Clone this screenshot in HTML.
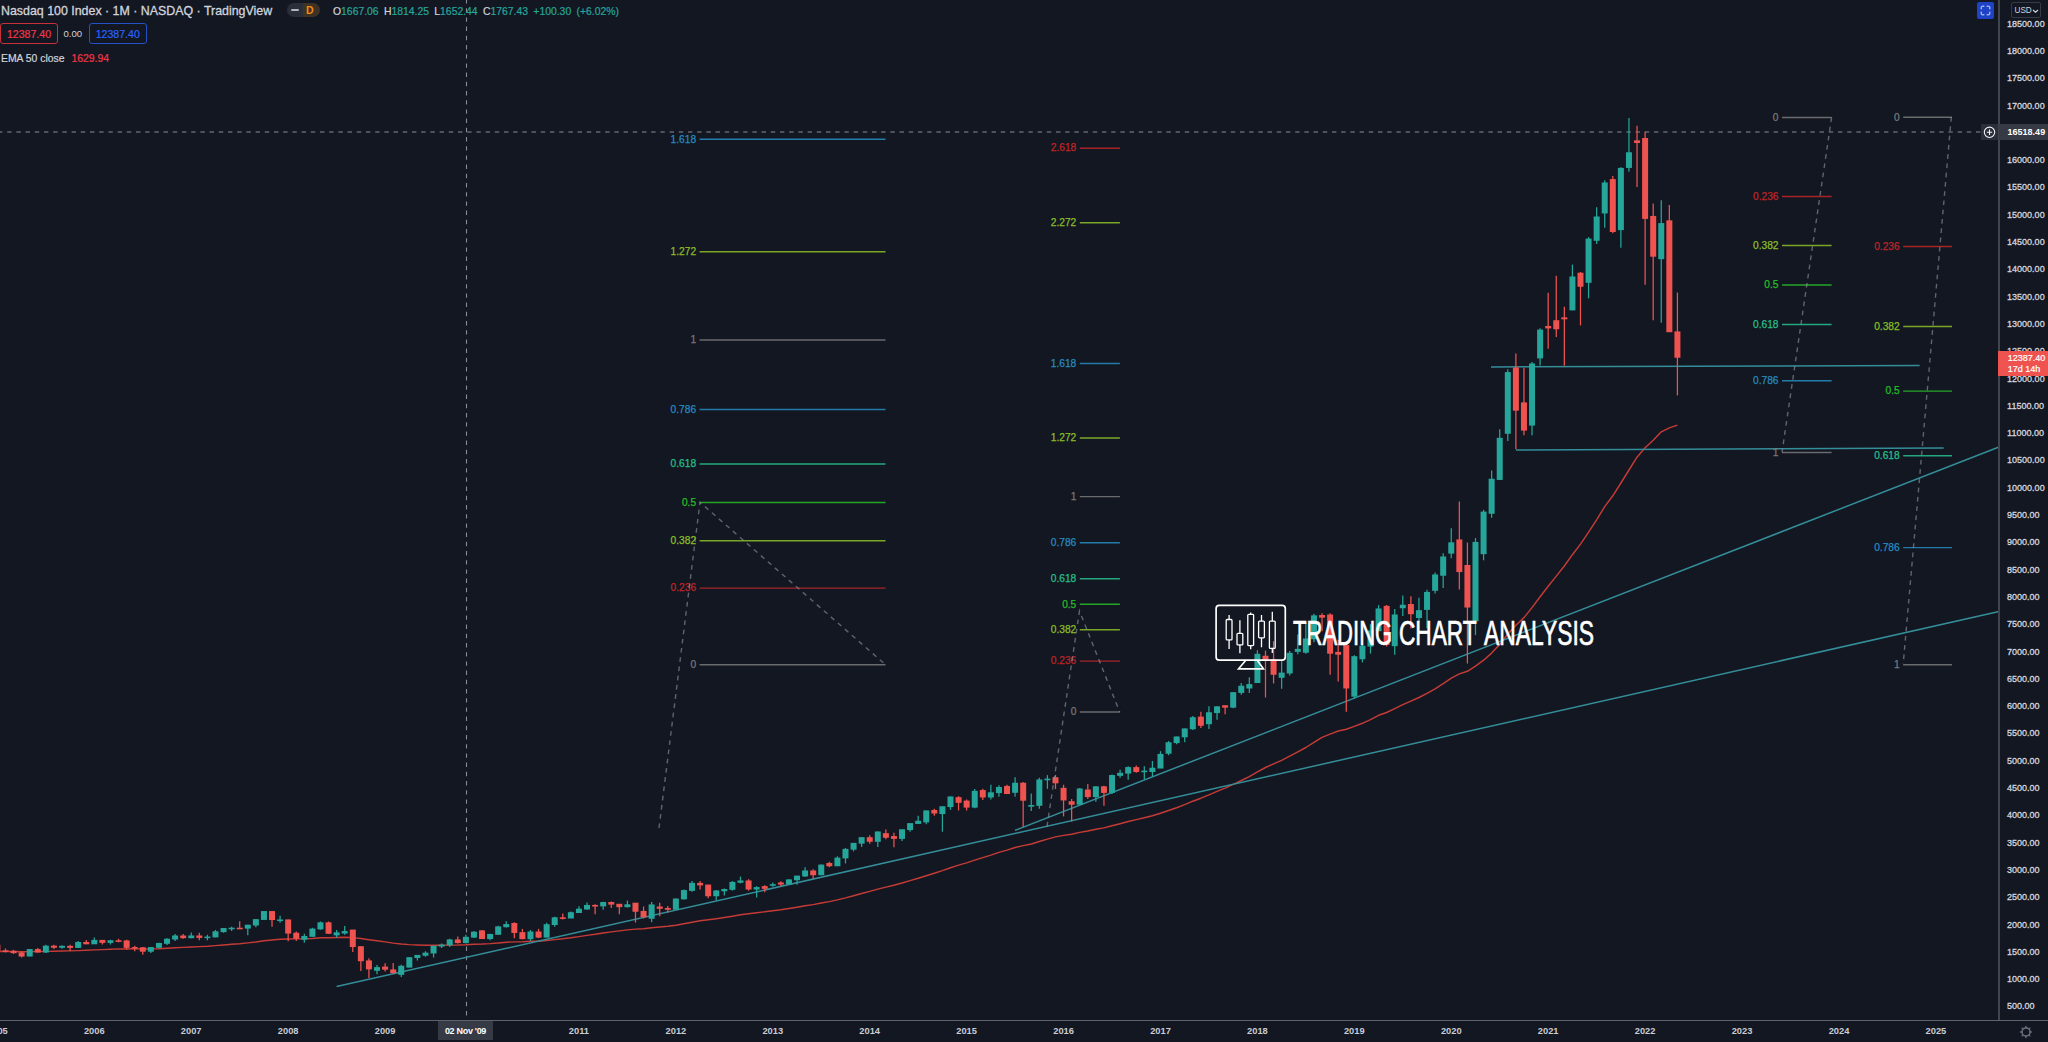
<!DOCTYPE html>
<html><head><meta charset="utf-8"><title>Nasdaq 100 Index chart</title>
<style>
html,body{margin:0;padding:0;background:#131722;}
body{width:2048px;height:1042px;position:relative;overflow:hidden;font-family:"Liberation Sans",sans-serif;color:#d1d4dc;}
#paxis{position:absolute;left:1998px;top:0;width:50px;height:1042px;background:#131722;border-left:2px solid #41454f;box-sizing:border-box}
#taxis{position:absolute;left:0;top:1020.0px;width:2048px;height:22.0px;background:#131722;border-top:1px solid #5f626c;box-sizing:border-box}
.pl{position:absolute;left:2007.1px;-webkit-text-stroke:0.3px #d3d6de;font-size:9.0px;line-height:12px;height:12px;color:#d3d6de;white-space:nowrap;}
.tl{position:absolute;top:1024.8px;width:40px;text-align:center;font-size:9.3px;line-height:12px;color:#c9ccd4;font-weight:bold}
</style></head><body>
<svg id="chart" width="2048" height="1042" viewBox="0 0 2048 1042" style="position:absolute;left:0;top:0" font-family="Liberation Sans, sans-serif"><line x1="-2" y1="132" x2="1981" y2="132" stroke="#9ea1aa" stroke-width="1.1" stroke-dasharray="4.4 4.8" opacity="0.85"/>
<line x1="466.5" y1="-1" x2="466.5" y2="1020.5" stroke="#9ea1aa" stroke-width="1.1" stroke-dasharray="4.4 4.8" opacity="0.85"/>
<polyline points="-2.6,951.5 5.5,951.4 13.6,951.5 21.6,951.7 29.7,951.6 37.8,951.6 45.9,951.4 53.9,951.2 62.0,951.0 70.1,950.9 78.2,950.6 86.2,950.3 94.3,949.9 102.4,949.6 110.5,949.3 118.6,948.9 126.6,948.9 134.7,948.8 142.8,948.9 150.9,948.9 158.9,948.7 167.0,948.3 175.1,947.8 183.2,947.4 191.2,947.0 199.3,946.6 207.4,946.2 215.5,945.6 223.6,945.0 231.6,944.3 239.7,943.7 247.8,942.9 255.9,942.0 263.9,940.8 272.0,940.0 280.1,939.2 288.2,939.0 296.2,938.9 304.3,938.8 312.4,938.5 320.5,937.8 328.6,937.7 336.6,937.5 344.7,937.2 352.8,937.6 360.9,938.5 368.9,939.7 377.0,940.8 385.1,941.9 393.2,943.1 401.2,944.0 409.3,944.6 417.4,945.0 425.5,945.3 433.6,945.3 441.6,945.3 449.7,945.1 457.8,945.0 465.9,944.7 473.9,944.2 482.0,944.0 490.1,943.6 498.2,943.0 506.3,942.2 514.3,941.9 522.4,941.7 530.5,941.3 538.6,941.2 546.6,940.5 554.7,939.6 562.8,938.8 570.9,937.8 578.9,936.6 587.0,935.4 595.1,934.3 603.2,933.0 611.3,931.9 619.3,930.9 627.4,929.9 635.5,929.1 643.6,928.7 651.6,927.7 659.7,927.0 667.8,926.3 675.9,925.2 683.9,923.8 692.0,922.3 700.1,920.8 708.2,919.8 716.3,918.7 724.3,917.5 732.4,916.2 740.5,914.8 748.6,913.8 756.6,912.7 764.7,911.8 772.8,910.7 780.9,909.7 788.9,908.5 797.0,907.2 805.1,905.8 813.2,904.6 821.3,903.0 829.3,901.6 837.4,899.9 845.5,897.9 853.6,895.7 861.6,893.5 869.7,891.4 877.8,889.1 885.9,887.1 893.9,885.2 902.0,883.0 910.1,880.6 918.2,878.3 926.3,875.7 934.3,873.2 942.4,870.6 950.5,867.7 958.6,865.1 966.6,862.9 974.7,860.1 982.8,857.6 990.9,855.1 998.9,852.4 1007.0,850.1 1015.1,847.5 1023.2,845.6 1031.3,844.0 1039.3,841.5 1047.4,839.1 1055.5,836.9 1063.6,835.4 1071.6,834.2 1079.7,832.4 1087.8,831.0 1095.9,829.3 1103.9,827.9 1112.0,825.8 1120.1,823.7 1128.2,821.5 1136.3,819.6 1144.3,817.7 1152.4,815.7 1160.5,813.3 1168.6,810.5 1176.6,807.7 1184.7,804.6 1192.8,801.2 1200.9,798.2 1209.0,794.8 1217.0,791.4 1225.1,788.1 1233.2,784.3 1241.3,780.5 1249.3,776.7 1257.4,771.9 1265.5,767.5 1273.6,763.8 1281.6,760.3 1289.7,756.1 1297.8,751.9 1305.9,747.5 1314.0,742.3 1322.0,737.4 1330.1,734.1 1338.2,731.0 1346.3,729.3 1354.3,726.4 1362.4,723.3 1370.5,719.7 1378.6,715.3 1386.6,712.5 1394.7,708.7 1402.8,704.7 1410.9,701.1 1419.0,697.5 1427.0,693.4 1435.1,688.8 1443.2,683.6 1451.3,678.1 1459.3,673.9 1467.4,671.3 1475.5,666.2 1483.6,660.2 1491.6,653.1 1499.7,644.6 1507.8,634.0 1515.9,625.2 1524.0,617.6 1532.0,607.6 1540.1,596.7 1548.2,586.2 1556.3,576.1 1564.3,566.0 1572.4,554.7 1580.5,544.1 1588.6,532.2 1596.6,519.8 1604.7,506.6 1612.8,495.8 1620.9,483.0 1629.0,470.0 1637.0,457.2 1645.1,447.8 1653.2,440.3 1661.3,431.8 1669.3,427.9 1677.4,425.1" fill="none" stroke="#c63b36" stroke-width="1.45" stroke-linejoin="round"/>
<line x1="336.6" y1="986.6" x2="1999" y2="611.5" stroke="#348e99" stroke-width="1.5"/>
<line x1="1014.9" y1="830.4" x2="1999" y2="447" stroke="#348e99" stroke-width="1.5"/>
<line x1="1491" y1="366.9" x2="1919.6" y2="365.5" stroke="#348e99" stroke-width="1.5"/>
<line x1="1516" y1="450.0" x2="1943.7" y2="448.1" stroke="#348e99" stroke-width="1.5"/>
<g id="candles"><line x1="-2.60" y1="944.81" x2="-2.60" y2="952.62" stroke="#ef5350" stroke-width="1.25"/><rect x="-5.60" y="944.79" width="6" height="6.34" fill="#ef5350"/><line x1="5.48" y1="948.52" x2="5.48" y2="952.46" stroke="#ef5350" stroke-width="1.25"/><rect x="2.48" y="950.33" width="6" height="1.60" fill="#ef5350"/><line x1="13.55" y1="949.83" x2="13.55" y2="953.87" stroke="#ef5350" stroke-width="1.25"/><rect x="10.55" y="950.80" width="6" height="2.36" fill="#ef5350"/><line x1="21.63" y1="951.47" x2="21.63" y2="957.59" stroke="#ef5350" stroke-width="1.25"/><rect x="18.63" y="952.36" width="6" height="4.17" fill="#ef5350"/><line x1="29.71" y1="948.96" x2="29.71" y2="956.28" stroke="#26a69a" stroke-width="1.25"/><rect x="26.71" y="949.07" width="6" height="7.45" fill="#26a69a"/><line x1="37.78" y1="948.09" x2="37.78" y2="952.62" stroke="#ef5350" stroke-width="1.25"/><rect x="34.78" y="949.07" width="6" height="3.48" fill="#ef5350"/><line x1="45.86" y1="944.81" x2="45.86" y2="952.89" stroke="#26a69a" stroke-width="1.25"/><rect x="42.86" y="945.67" width="6" height="6.89" fill="#26a69a"/><line x1="53.94" y1="944.87" x2="53.94" y2="948.96" stroke="#ef5350" stroke-width="1.25"/><rect x="50.94" y="945.67" width="6" height="2.07" fill="#ef5350"/><line x1="62.02" y1="945.14" x2="62.02" y2="948.85" stroke="#26a69a" stroke-width="1.25"/><rect x="59.02" y="945.85" width="6" height="1.89" fill="#26a69a"/><line x1="70.09" y1="944.81" x2="70.09" y2="950.98" stroke="#ef5350" stroke-width="1.25"/><rect x="67.09" y="945.85" width="6" height="2.04" fill="#ef5350"/><line x1="78.17" y1="940.88" x2="78.17" y2="947.98" stroke="#26a69a" stroke-width="1.25"/><rect x="75.17" y="941.98" width="6" height="5.91" fill="#26a69a"/><line x1="86.25" y1="940.01" x2="86.25" y2="944.16" stroke="#ef5350" stroke-width="1.25"/><rect x="83.25" y="941.98" width="6" height="2.30" fill="#ef5350"/><line x1="94.32" y1="937.55" x2="94.32" y2="943.88" stroke="#26a69a" stroke-width="1.25"/><rect x="91.32" y="939.90" width="6" height="4.39" fill="#26a69a"/><line x1="102.40" y1="939.95" x2="102.40" y2="944.54" stroke="#ef5350" stroke-width="1.25"/><rect x="99.40" y="939.90" width="6" height="2.99" fill="#ef5350"/><line x1="110.48" y1="939.79" x2="110.48" y2="944.54" stroke="#26a69a" stroke-width="1.25"/><rect x="107.48" y="940.28" width="6" height="2.61" fill="#26a69a"/><line x1="118.56" y1="938.75" x2="118.56" y2="942.25" stroke="#ef5350" stroke-width="1.25"/><rect x="115.56" y="940.28" width="6" height="1.60" fill="#ef5350"/><line x1="126.63" y1="939.73" x2="126.63" y2="949.45" stroke="#ef5350" stroke-width="1.25"/><rect x="123.63" y="940.44" width="6" height="7.41" fill="#ef5350"/><line x1="134.71" y1="945.68" x2="134.71" y2="951.20" stroke="#ef5350" stroke-width="1.25"/><rect x="131.71" y="947.05" width="6" height="1.60" fill="#ef5350"/><line x1="142.79" y1="947.00" x2="142.79" y2="954.75" stroke="#ef5350" stroke-width="1.25"/><rect x="139.79" y="947.29" width="6" height="4.39" fill="#ef5350"/><line x1="150.86" y1="947.27" x2="150.86" y2="952.89" stroke="#26a69a" stroke-width="1.25"/><rect x="147.86" y="947.05" width="6" height="4.64" fill="#26a69a"/><line x1="158.94" y1="942.68" x2="158.94" y2="948.36" stroke="#26a69a" stroke-width="1.25"/><rect x="155.94" y="942.99" width="6" height="4.86" fill="#26a69a"/><line x1="167.02" y1="938.37" x2="167.02" y2="944.98" stroke="#26a69a" stroke-width="1.25"/><rect x="164.02" y="938.71" width="6" height="5.09" fill="#26a69a"/><line x1="175.09" y1="934.11" x2="175.09" y2="940.88" stroke="#26a69a" stroke-width="1.25"/><rect x="172.09" y="935.51" width="6" height="3.99" fill="#26a69a"/><line x1="183.17" y1="934.06" x2="183.17" y2="938.70" stroke="#ef5350" stroke-width="1.25"/><rect x="180.17" y="935.51" width="6" height="2.66" fill="#ef5350"/><line x1="191.25" y1="932.58" x2="191.25" y2="938.20" stroke="#26a69a" stroke-width="1.25"/><rect x="188.25" y="935.46" width="6" height="2.72" fill="#26a69a"/><line x1="199.33" y1="932.64" x2="199.33" y2="940.33" stroke="#ef5350" stroke-width="1.25"/><rect x="196.33" y="935.46" width="6" height="2.46" fill="#ef5350"/><line x1="207.40" y1="934.76" x2="207.40" y2="940.28" stroke="#26a69a" stroke-width="1.25"/><rect x="204.40" y="936.55" width="6" height="1.60" fill="#26a69a"/><line x1="215.48" y1="929.96" x2="215.48" y2="937.33" stroke="#26a69a" stroke-width="1.25"/><rect x="212.48" y="931.32" width="6" height="6.03" fill="#26a69a"/><line x1="223.56" y1="928.05" x2="223.56" y2="932.69" stroke="#26a69a" stroke-width="1.25"/><rect x="220.56" y="928.03" width="6" height="4.09" fill="#26a69a"/><line x1="231.63" y1="926.79" x2="231.63" y2="931.05" stroke="#26a69a" stroke-width="1.25"/><rect x="228.63" y="927.70" width="6" height="1.60" fill="#26a69a"/><line x1="239.71" y1="921.22" x2="239.71" y2="928.87" stroke="#ef5350" stroke-width="1.25"/><rect x="236.71" y="927.70" width="6" height="1.60" fill="#ef5350"/><line x1="247.79" y1="924.83" x2="247.79" y2="935.15" stroke="#26a69a" stroke-width="1.25"/><rect x="244.79" y="924.72" width="6" height="3.90" fill="#26a69a"/><line x1="255.86" y1="919.04" x2="255.86" y2="927.23" stroke="#26a69a" stroke-width="1.25"/><rect x="252.86" y="919.13" width="6" height="6.39" fill="#26a69a"/><line x1="263.94" y1="911.45" x2="263.94" y2="919.86" stroke="#26a69a" stroke-width="1.25"/><rect x="260.94" y="911.05" width="6" height="8.88" fill="#26a69a"/><line x1="272.02" y1="911.45" x2="272.02" y2="926.68" stroke="#ef5350" stroke-width="1.25"/><rect x="269.02" y="911.05" width="6" height="8.99" fill="#ef5350"/><line x1="280.09" y1="915.76" x2="280.09" y2="922.86" stroke="#26a69a" stroke-width="1.25"/><rect x="277.09" y="919.46" width="6" height="1.60" fill="#26a69a"/><line x1="288.17" y1="919.59" x2="288.17" y2="941.26" stroke="#ef5350" stroke-width="1.25"/><rect x="285.17" y="919.46" width="6" height="14.10" fill="#ef5350"/><line x1="296.25" y1="931.60" x2="296.25" y2="940.88" stroke="#ef5350" stroke-width="1.25"/><rect x="293.25" y="932.76" width="6" height="6.06" fill="#ef5350"/><line x1="304.33" y1="933.78" x2="304.33" y2="942.63" stroke="#26a69a" stroke-width="1.25"/><rect x="301.33" y="936.01" width="6" height="3.74" fill="#26a69a"/><line x1="312.40" y1="927.78" x2="312.40" y2="936.79" stroke="#26a69a" stroke-width="1.25"/><rect x="309.40" y="928.59" width="6" height="8.21" fill="#26a69a"/><line x1="320.48" y1="921.50" x2="320.48" y2="929.69" stroke="#26a69a" stroke-width="1.25"/><rect x="317.48" y="922.32" width="6" height="7.07" fill="#26a69a"/><line x1="328.56" y1="921.44" x2="328.56" y2="933.78" stroke="#ef5350" stroke-width="1.25"/><rect x="325.56" y="922.32" width="6" height="11.48" fill="#ef5350"/><line x1="336.63" y1="929.96" x2="336.63" y2="937.60" stroke="#26a69a" stroke-width="1.25"/><rect x="333.63" y="932.34" width="6" height="3.04" fill="#26a69a"/><line x1="344.71" y1="925.97" x2="344.71" y2="934.87" stroke="#26a69a" stroke-width="1.25"/><rect x="341.71" y="931.06" width="6" height="2.47" fill="#26a69a"/><line x1="352.79" y1="929.96" x2="352.79" y2="952.07" stroke="#ef5350" stroke-width="1.25"/><rect x="349.79" y="929.56" width="6" height="17.47" fill="#ef5350"/><line x1="360.86" y1="946.34" x2="360.86" y2="970.91" stroke="#ef5350" stroke-width="1.25"/><rect x="357.86" y="946.23" width="6" height="14.99" fill="#ef5350"/><line x1="368.94" y1="958.35" x2="368.94" y2="978.12" stroke="#ef5350" stroke-width="1.25"/><rect x="365.94" y="960.42" width="6" height="8.94" fill="#ef5350"/><line x1="377.02" y1="964.90" x2="377.02" y2="974.19" stroke="#26a69a" stroke-width="1.25"/><rect x="374.02" y="967.15" width="6" height="3.62" fill="#26a69a"/><line x1="385.10" y1="963.27" x2="385.10" y2="971.46" stroke="#ef5350" stroke-width="1.25"/><rect x="382.10" y="966.58" width="6" height="3.09" fill="#ef5350"/><line x1="393.17" y1="962.99" x2="393.17" y2="973.64" stroke="#ef5350" stroke-width="1.25"/><rect x="390.17" y="969.42" width="6" height="3.69" fill="#ef5350"/><line x1="401.25" y1="964.63" x2="401.25" y2="976.92" stroke="#26a69a" stroke-width="1.25"/><rect x="398.25" y="965.76" width="6" height="9.10" fill="#26a69a"/><line x1="409.33" y1="956.99" x2="409.33" y2="967.20" stroke="#26a69a" stroke-width="1.25"/><rect x="406.33" y="957.19" width="6" height="10.41" fill="#26a69a"/><line x1="417.40" y1="955.08" x2="417.40" y2="960.54" stroke="#26a69a" stroke-width="1.25"/><rect x="414.40" y="954.92" width="6" height="3.07" fill="#26a69a"/><line x1="425.48" y1="951.25" x2="425.48" y2="956.71" stroke="#26a69a" stroke-width="1.25"/><rect x="422.48" y="952.66" width="6" height="3.06" fill="#26a69a"/><line x1="433.56" y1="945.79" x2="433.56" y2="957.53" stroke="#26a69a" stroke-width="1.25"/><rect x="430.56" y="945.78" width="6" height="7.68" fill="#26a69a"/><line x1="441.63" y1="943.61" x2="441.63" y2="947.98" stroke="#26a69a" stroke-width="1.25"/><rect x="438.63" y="944.58" width="6" height="2.00" fill="#26a69a"/><line x1="449.71" y1="938.70" x2="449.71" y2="946.89" stroke="#26a69a" stroke-width="1.25"/><rect x="446.71" y="939.44" width="6" height="5.93" fill="#26a69a"/><line x1="457.79" y1="936.51" x2="457.79" y2="943.61" stroke="#ef5350" stroke-width="1.25"/><rect x="454.79" y="939.44" width="6" height="3.64" fill="#ef5350"/><line x1="465.87" y1="934.64" x2="465.87" y2="943.48" stroke="#26a69a" stroke-width="1.25"/><rect x="462.87" y="936.80" width="6" height="6.28" fill="#26a69a"/><line x1="473.94" y1="931.05" x2="473.94" y2="937.88" stroke="#26a69a" stroke-width="1.25"/><rect x="470.94" y="931.74" width="6" height="5.85" fill="#26a69a"/><line x1="482.02" y1="929.96" x2="482.02" y2="938.97" stroke="#ef5350" stroke-width="1.25"/><rect x="479.02" y="930.38" width="6" height="8.66" fill="#ef5350"/><line x1="490.10" y1="933.78" x2="490.10" y2="940.33" stroke="#26a69a" stroke-width="1.25"/><rect x="487.10" y="934.00" width="6" height="5.04" fill="#26a69a"/><line x1="498.17" y1="925.87" x2="498.17" y2="934.60" stroke="#26a69a" stroke-width="1.25"/><rect x="495.17" y="926.39" width="6" height="8.41" fill="#26a69a"/><line x1="506.25" y1="921.22" x2="506.25" y2="927.50" stroke="#26a69a" stroke-width="1.25"/><rect x="503.25" y="924.07" width="6" height="3.13" fill="#26a69a"/><line x1="514.33" y1="922.32" x2="514.33" y2="938.15" stroke="#ef5350" stroke-width="1.25"/><rect x="511.33" y="923.01" width="6" height="9.95" fill="#ef5350"/><line x1="522.40" y1="928.87" x2="522.40" y2="939.24" stroke="#ef5350" stroke-width="1.25"/><rect x="519.40" y="932.16" width="6" height="6.99" fill="#ef5350"/><line x1="530.48" y1="929.96" x2="530.48" y2="940.88" stroke="#26a69a" stroke-width="1.25"/><rect x="527.48" y="931.53" width="6" height="7.63" fill="#26a69a"/><line x1="538.56" y1="928.87" x2="538.56" y2="938.15" stroke="#ef5350" stroke-width="1.25"/><rect x="535.56" y="931.53" width="6" height="6.07" fill="#ef5350"/><line x1="546.64" y1="922.86" x2="546.64" y2="937.20" stroke="#26a69a" stroke-width="1.25"/><rect x="543.64" y="924.21" width="6" height="13.39" fill="#26a69a"/><line x1="554.71" y1="916.86" x2="554.71" y2="926.68" stroke="#26a69a" stroke-width="1.25"/><rect x="551.71" y="917.30" width="6" height="7.71" fill="#26a69a"/><line x1="562.79" y1="913.58" x2="562.79" y2="919.59" stroke="#ef5350" stroke-width="1.25"/><rect x="559.79" y="917.30" width="6" height="1.60" fill="#ef5350"/><line x1="570.87" y1="911.40" x2="570.87" y2="918.10" stroke="#26a69a" stroke-width="1.25"/><rect x="567.87" y="912.20" width="6" height="6.29" fill="#26a69a"/><line x1="578.94" y1="906.21" x2="578.94" y2="912.60" stroke="#26a69a" stroke-width="1.25"/><rect x="575.94" y="908.71" width="6" height="4.29" fill="#26a69a"/><line x1="587.02" y1="902.50" x2="587.02" y2="909.76" stroke="#26a69a" stroke-width="1.25"/><rect x="584.02" y="904.94" width="6" height="4.57" fill="#26a69a"/><line x1="595.10" y1="904.30" x2="595.10" y2="914.13" stroke="#ef5350" stroke-width="1.25"/><rect x="592.10" y="904.94" width="6" height="1.60" fill="#ef5350"/><line x1="603.17" y1="901.73" x2="603.17" y2="909.76" stroke="#26a69a" stroke-width="1.25"/><rect x="600.17" y="902.04" width="6" height="4.35" fill="#26a69a"/><line x1="611.25" y1="901.57" x2="611.25" y2="908.12" stroke="#ef5350" stroke-width="1.25"/><rect x="608.25" y="902.04" width="6" height="2.55" fill="#ef5350"/><line x1="619.33" y1="904.03" x2="619.33" y2="914.13" stroke="#ef5350" stroke-width="1.25"/><rect x="616.33" y="903.79" width="6" height="3.37" fill="#ef5350"/><line x1="627.41" y1="900.59" x2="627.41" y2="907.57" stroke="#26a69a" stroke-width="1.25"/><rect x="624.41" y="904.29" width="6" height="2.86" fill="#26a69a"/><line x1="635.48" y1="903.10" x2="635.48" y2="922.59" stroke="#ef5350" stroke-width="1.25"/><rect x="632.48" y="902.70" width="6" height="9.04" fill="#ef5350"/><line x1="643.56" y1="906.48" x2="643.56" y2="918.49" stroke="#ef5350" stroke-width="1.25"/><rect x="640.56" y="910.94" width="6" height="6.37" fill="#ef5350"/><line x1="651.64" y1="902.11" x2="651.64" y2="922.32" stroke="#26a69a" stroke-width="1.25"/><rect x="648.64" y="904.44" width="6" height="14.34" fill="#26a69a"/><line x1="659.71" y1="902.66" x2="659.71" y2="916.31" stroke="#ef5350" stroke-width="1.25"/><rect x="656.71" y="906.52" width="6" height="2.27" fill="#ef5350"/><line x1="667.79" y1="905.94" x2="667.79" y2="912.49" stroke="#ef5350" stroke-width="1.25"/><rect x="664.79" y="907.99" width="6" height="1.74" fill="#ef5350"/><line x1="675.87" y1="898.57" x2="675.87" y2="909.33" stroke="#26a69a" stroke-width="1.25"/><rect x="672.87" y="898.55" width="6" height="11.18" fill="#26a69a"/><line x1="683.94" y1="889.56" x2="683.94" y2="899.38" stroke="#26a69a" stroke-width="1.25"/><rect x="680.94" y="890.08" width="6" height="9.27" fill="#26a69a"/><line x1="692.02" y1="881.09" x2="692.02" y2="891.74" stroke="#26a69a" stroke-width="1.25"/><rect x="689.02" y="882.88" width="6" height="8.01" fill="#26a69a"/><line x1="700.10" y1="881.09" x2="700.10" y2="889.56" stroke="#ef5350" stroke-width="1.25"/><rect x="697.10" y="882.88" width="6" height="2.51" fill="#ef5350"/><line x1="708.18" y1="884.64" x2="708.18" y2="898.29" stroke="#ef5350" stroke-width="1.25"/><rect x="705.18" y="884.59" width="6" height="11.65" fill="#ef5350"/><line x1="716.25" y1="890.10" x2="716.25" y2="900.31" stroke="#26a69a" stroke-width="1.25"/><rect x="713.25" y="890.48" width="6" height="5.76" fill="#26a69a"/><line x1="724.33" y1="888.46" x2="724.33" y2="895.56" stroke="#26a69a" stroke-width="1.25"/><rect x="721.33" y="889.02" width="6" height="2.26" fill="#26a69a"/><line x1="732.41" y1="881.09" x2="732.41" y2="890.65" stroke="#26a69a" stroke-width="1.25"/><rect x="729.41" y="881.95" width="6" height="7.87" fill="#26a69a"/><line x1="740.48" y1="876.56" x2="740.48" y2="883.28" stroke="#26a69a" stroke-width="1.25"/><rect x="737.48" y="880.47" width="6" height="2.27" fill="#26a69a"/><line x1="748.56" y1="879.18" x2="748.56" y2="890.65" stroke="#ef5350" stroke-width="1.25"/><rect x="745.56" y="880.47" width="6" height="9.05" fill="#ef5350"/><line x1="756.64" y1="886.28" x2="756.64" y2="897.47" stroke="#26a69a" stroke-width="1.25"/><rect x="753.64" y="887.09" width="6" height="2.44" fill="#26a69a"/><line x1="764.71" y1="885.19" x2="764.71" y2="892.29" stroke="#ef5350" stroke-width="1.25"/><rect x="761.71" y="886.15" width="6" height="2.66" fill="#ef5350"/><line x1="772.79" y1="882.46" x2="772.79" y2="886.83" stroke="#26a69a" stroke-width="1.25"/><rect x="769.79" y="884.16" width="6" height="1.60" fill="#26a69a"/><line x1="780.87" y1="881.37" x2="780.87" y2="886.28" stroke="#ef5350" stroke-width="1.25"/><rect x="777.87" y="882.49" width="6" height="2.08" fill="#ef5350"/><line x1="788.95" y1="879.18" x2="788.95" y2="884.10" stroke="#26a69a" stroke-width="1.25"/><rect x="785.95" y="879.40" width="6" height="4.82" fill="#26a69a"/><line x1="797.02" y1="875.63" x2="797.02" y2="884.64" stroke="#26a69a" stroke-width="1.25"/><rect x="794.02" y="875.65" width="6" height="4.55" fill="#26a69a"/><line x1="805.10" y1="867.17" x2="805.10" y2="877.00" stroke="#26a69a" stroke-width="1.25"/><rect x="802.10" y="870.49" width="6" height="5.95" fill="#26a69a"/><line x1="813.18" y1="869.35" x2="813.18" y2="878.64" stroke="#ef5350" stroke-width="1.25"/><rect x="810.18" y="870.49" width="6" height="4.74" fill="#ef5350"/><line x1="821.25" y1="864.44" x2="821.25" y2="875.36" stroke="#26a69a" stroke-width="1.25"/><rect x="818.25" y="864.59" width="6" height="10.65" fill="#26a69a"/><line x1="829.33" y1="861.71" x2="829.33" y2="867.17" stroke="#ef5350" stroke-width="1.25"/><rect x="826.33" y="862.95" width="6" height="3.32" fill="#ef5350"/><line x1="837.41" y1="856.25" x2="837.41" y2="866.08" stroke="#26a69a" stroke-width="1.25"/><rect x="834.41" y="857.60" width="6" height="8.67" fill="#26a69a"/><line x1="845.49" y1="848.06" x2="845.49" y2="863.35" stroke="#26a69a" stroke-width="1.25"/><rect x="842.49" y="848.88" width="6" height="9.52" fill="#26a69a"/><line x1="853.56" y1="843.15" x2="853.56" y2="851.34" stroke="#26a69a" stroke-width="1.25"/><rect x="850.56" y="842.87" width="6" height="6.81" fill="#26a69a"/><line x1="861.64" y1="837.41" x2="861.64" y2="846.97" stroke="#26a69a" stroke-width="1.25"/><rect x="858.64" y="837.18" width="6" height="6.49" fill="#26a69a"/><line x1="869.72" y1="835.23" x2="869.72" y2="843.69" stroke="#ef5350" stroke-width="1.25"/><rect x="866.72" y="837.18" width="6" height="4.62" fill="#ef5350"/><line x1="877.79" y1="831.13" x2="877.79" y2="846.97" stroke="#26a69a" stroke-width="1.25"/><rect x="874.79" y="831.50" width="6" height="10.30" fill="#26a69a"/><line x1="885.87" y1="829.50" x2="885.87" y2="839.32" stroke="#ef5350" stroke-width="1.25"/><rect x="882.87" y="833.19" width="6" height="4.57" fill="#ef5350"/><line x1="893.95" y1="832.77" x2="893.95" y2="847.24" stroke="#ef5350" stroke-width="1.25"/><rect x="890.95" y="836.08" width="6" height="2.82" fill="#ef5350"/><line x1="902.02" y1="829.50" x2="902.02" y2="840.96" stroke="#26a69a" stroke-width="1.25"/><rect x="899.02" y="829.26" width="6" height="9.65" fill="#26a69a"/><line x1="910.10" y1="822.94" x2="910.10" y2="831.68" stroke="#26a69a" stroke-width="1.25"/><rect x="907.10" y="823.12" width="6" height="6.94" fill="#26a69a"/><line x1="918.18" y1="815.85" x2="918.18" y2="823.52" stroke="#26a69a" stroke-width="1.25"/><rect x="915.18" y="820.74" width="6" height="3.18" fill="#26a69a"/><line x1="926.25" y1="810.39" x2="926.25" y2="824.31" stroke="#26a69a" stroke-width="1.25"/><rect x="923.25" y="810.39" width="6" height="11.97" fill="#26a69a"/><line x1="934.33" y1="808.75" x2="934.33" y2="815.85" stroke="#ef5350" stroke-width="1.25"/><rect x="931.33" y="809.99" width="6" height="3.53" fill="#ef5350"/><line x1="942.41" y1="806.56" x2="942.41" y2="831.68" stroke="#26a69a" stroke-width="1.25"/><rect x="939.41" y="806.27" width="6" height="7.79" fill="#26a69a"/><line x1="950.49" y1="796.46" x2="950.49" y2="809.84" stroke="#26a69a" stroke-width="1.25"/><rect x="947.49" y="796.46" width="6" height="10.62" fill="#26a69a"/><line x1="958.56" y1="796.19" x2="958.56" y2="810.39" stroke="#ef5350" stroke-width="1.25"/><rect x="955.56" y="797.16" width="6" height="5.66" fill="#ef5350"/><line x1="966.64" y1="799.47" x2="966.64" y2="810.39" stroke="#ef5350" stroke-width="1.25"/><rect x="963.64" y="800.59" width="6" height="7.02" fill="#ef5350"/><line x1="974.72" y1="789.09" x2="974.72" y2="808.20" stroke="#26a69a" stroke-width="1.25"/><rect x="971.72" y="790.84" width="6" height="16.78" fill="#26a69a"/><line x1="982.79" y1="788.82" x2="982.79" y2="800.01" stroke="#ef5350" stroke-width="1.25"/><rect x="979.79" y="790.06" width="6" height="7.42" fill="#ef5350"/><line x1="990.87" y1="784.72" x2="990.87" y2="799.47" stroke="#26a69a" stroke-width="1.25"/><rect x="987.87" y="792.30" width="6" height="5.18" fill="#26a69a"/><line x1="998.95" y1="785.27" x2="998.95" y2="796.74" stroke="#26a69a" stroke-width="1.25"/><rect x="995.95" y="787.00" width="6" height="6.09" fill="#26a69a"/><line x1="1007.02" y1="784.72" x2="1007.02" y2="794.01" stroke="#ef5350" stroke-width="1.25"/><rect x="1004.02" y="785.96" width="6" height="8.07" fill="#ef5350"/><line x1="1015.10" y1="777.35" x2="1015.10" y2="796.74" stroke="#26a69a" stroke-width="1.25"/><rect x="1012.10" y="782.75" width="6" height="10.02" fill="#26a69a"/><line x1="1023.18" y1="781.99" x2="1023.18" y2="826.93" stroke="#ef5350" stroke-width="1.25"/><rect x="1020.18" y="782.75" width="6" height="17.96" fill="#ef5350"/><line x1="1031.26" y1="793.46" x2="1031.26" y2="810.93" stroke="#26a69a" stroke-width="1.25"/><rect x="1028.26" y="805.02" width="6" height="1.67" fill="#26a69a"/><line x1="1039.33" y1="777.63" x2="1039.33" y2="808.75" stroke="#26a69a" stroke-width="1.25"/><rect x="1036.33" y="779.48" width="6" height="26.34" fill="#26a69a"/><line x1="1047.41" y1="775.11" x2="1047.41" y2="788.82" stroke="#26a69a" stroke-width="1.25"/><rect x="1044.41" y="778.62" width="6" height="1.66" fill="#26a69a"/><line x1="1055.49" y1="774.90" x2="1055.49" y2="789.09" stroke="#ef5350" stroke-width="1.25"/><rect x="1052.49" y="777.23" width="6" height="6.10" fill="#ef5350"/><line x1="1063.56" y1="784.72" x2="1063.56" y2="816.39" stroke="#ef5350" stroke-width="1.25"/><rect x="1060.56" y="787.82" width="6" height="12.65" fill="#ef5350"/><line x1="1071.64" y1="798.92" x2="1071.64" y2="821.42" stroke="#ef5350" stroke-width="1.25"/><rect x="1068.64" y="801.25" width="6" height="3.48" fill="#ef5350"/><line x1="1079.72" y1="788.00" x2="1079.72" y2="804.33" stroke="#26a69a" stroke-width="1.25"/><rect x="1076.72" y="788.49" width="6" height="16.24" fill="#26a69a"/><line x1="1087.80" y1="783.90" x2="1087.80" y2="798.92" stroke="#ef5350" stroke-width="1.25"/><rect x="1084.80" y="789.51" width="6" height="7.57" fill="#ef5350"/><line x1="1095.87" y1="786.36" x2="1095.87" y2="801.65" stroke="#26a69a" stroke-width="1.25"/><rect x="1092.87" y="786.34" width="6" height="10.74" fill="#26a69a"/><line x1="1103.95" y1="785.82" x2="1103.95" y2="805.75" stroke="#ef5350" stroke-width="1.25"/><rect x="1100.95" y="786.34" width="6" height="6.55" fill="#ef5350"/><line x1="1112.03" y1="774.62" x2="1112.03" y2="794.01" stroke="#26a69a" stroke-width="1.25"/><rect x="1109.03" y="775.04" width="6" height="17.85" fill="#26a69a"/><line x1="1120.10" y1="769.71" x2="1120.10" y2="777.63" stroke="#26a69a" stroke-width="1.25"/><rect x="1117.10" y="772.80" width="6" height="3.04" fill="#26a69a"/><line x1="1128.18" y1="766.16" x2="1128.18" y2="779.81" stroke="#26a69a" stroke-width="1.25"/><rect x="1125.18" y="767.09" width="6" height="6.52" fill="#26a69a"/><line x1="1136.26" y1="765.50" x2="1136.26" y2="772.71" stroke="#ef5350" stroke-width="1.25"/><rect x="1133.26" y="767.09" width="6" height="4.88" fill="#ef5350"/><line x1="1144.33" y1="766.16" x2="1144.33" y2="779.26" stroke="#26a69a" stroke-width="1.25"/><rect x="1141.33" y="770.63" width="6" height="1.60" fill="#26a69a"/><line x1="1152.41" y1="760.97" x2="1152.41" y2="776.53" stroke="#26a69a" stroke-width="1.25"/><rect x="1149.41" y="767.75" width="6" height="4.27" fill="#26a69a"/><line x1="1160.49" y1="751.14" x2="1160.49" y2="768.15" stroke="#26a69a" stroke-width="1.25"/><rect x="1157.49" y="753.92" width="6" height="14.62" fill="#26a69a"/><line x1="1168.57" y1="741.04" x2="1168.57" y2="755.24" stroke="#26a69a" stroke-width="1.25"/><rect x="1165.57" y="742.28" width="6" height="11.45" fill="#26a69a"/><line x1="1176.64" y1="736.40" x2="1176.64" y2="744.32" stroke="#26a69a" stroke-width="1.25"/><rect x="1173.64" y="736.49" width="6" height="6.59" fill="#26a69a"/><line x1="1184.72" y1="728.49" x2="1184.72" y2="742.14" stroke="#26a69a" stroke-width="1.25"/><rect x="1181.72" y="728.44" width="6" height="8.85" fill="#26a69a"/><line x1="1192.80" y1="715.93" x2="1192.80" y2="730.12" stroke="#26a69a" stroke-width="1.25"/><rect x="1189.80" y="717.23" width="6" height="12.01" fill="#26a69a"/><line x1="1200.87" y1="711.67" x2="1200.87" y2="727.94" stroke="#ef5350" stroke-width="1.25"/><rect x="1197.87" y="716.62" width="6" height="9.16" fill="#ef5350"/><line x1="1208.95" y1="706.37" x2="1208.95" y2="729.03" stroke="#26a69a" stroke-width="1.25"/><rect x="1205.95" y="712.25" width="6" height="11.94" fill="#26a69a"/><line x1="1217.03" y1="706.37" x2="1217.03" y2="719.75" stroke="#26a69a" stroke-width="1.25"/><rect x="1214.03" y="706.32" width="6" height="6.73" fill="#26a69a"/><line x1="1225.10" y1="705.55" x2="1225.10" y2="714.29" stroke="#ef5350" stroke-width="1.25"/><rect x="1222.10" y="705.26" width="6" height="2.38" fill="#ef5350"/><line x1="1233.18" y1="692.45" x2="1233.18" y2="708.28" stroke="#26a69a" stroke-width="1.25"/><rect x="1230.18" y="692.13" width="6" height="15.52" fill="#26a69a"/><line x1="1241.26" y1="682.89" x2="1241.26" y2="694.63" stroke="#26a69a" stroke-width="1.25"/><rect x="1238.26" y="685.74" width="6" height="7.19" fill="#26a69a"/><line x1="1249.34" y1="677.27" x2="1249.34" y2="693.11" stroke="#26a69a" stroke-width="1.25"/><rect x="1246.34" y="684.08" width="6" height="4.40" fill="#26a69a"/><line x1="1257.41" y1="650.24" x2="1257.41" y2="682.62" stroke="#26a69a" stroke-width="1.25"/><rect x="1254.41" y="653.83" width="6" height="29.19" fill="#26a69a"/><line x1="1265.49" y1="650.68" x2="1265.49" y2="697.47" stroke="#ef5350" stroke-width="1.25"/><rect x="1262.49" y="655.74" width="6" height="4.13" fill="#ef5350"/><line x1="1273.57" y1="641.29" x2="1273.57" y2="683.44" stroke="#ef5350" stroke-width="1.25"/><rect x="1270.57" y="659.07" width="6" height="15.71" fill="#ef5350"/><line x1="1281.64" y1="660.24" x2="1281.64" y2="688.68" stroke="#26a69a" stroke-width="1.25"/><rect x="1278.64" y="672.63" width="6" height="5.20" fill="#26a69a"/><line x1="1289.72" y1="650.95" x2="1289.72" y2="675.52" stroke="#26a69a" stroke-width="1.25"/><rect x="1286.72" y="652.86" width="6" height="20.57" fill="#26a69a"/><line x1="1297.80" y1="634.57" x2="1297.80" y2="654.23" stroke="#26a69a" stroke-width="1.25"/><rect x="1294.80" y="648.86" width="6" height="3.04" fill="#26a69a"/><line x1="1305.87" y1="622.56" x2="1305.87" y2="653.68" stroke="#26a69a" stroke-width="1.25"/><rect x="1302.87" y="638.43" width="6" height="14.29" fill="#26a69a"/><line x1="1313.95" y1="613.83" x2="1313.95" y2="642.22" stroke="#26a69a" stroke-width="1.25"/><rect x="1310.95" y="615.36" width="6" height="23.87" fill="#26a69a"/><line x1="1322.03" y1="613.28" x2="1322.03" y2="631.30" stroke="#ef5350" stroke-width="1.25"/><rect x="1319.03" y="615.06" width="6" height="2.57" fill="#ef5350"/><line x1="1330.11" y1="613.28" x2="1330.11" y2="674.76" stroke="#ef5350" stroke-width="1.25"/><rect x="1327.11" y="614.52" width="6" height="39.18" fill="#ef5350"/><line x1="1338.18" y1="639.76" x2="1338.18" y2="681.53" stroke="#ef5350" stroke-width="1.25"/><rect x="1335.18" y="651.92" width="6" height="2.77" fill="#ef5350"/><line x1="1346.26" y1="645.49" x2="1346.26" y2="711.83" stroke="#ef5350" stroke-width="1.25"/><rect x="1343.26" y="645.09" width="6" height="43.39" fill="#ef5350"/><line x1="1354.34" y1="655.32" x2="1354.34" y2="698.73" stroke="#26a69a" stroke-width="1.25"/><rect x="1351.34" y="656.19" width="6" height="40.48" fill="#26a69a"/><line x1="1362.41" y1="642.76" x2="1362.41" y2="662.42" stroke="#26a69a" stroke-width="1.25"/><rect x="1359.41" y="645.78" width="6" height="13.49" fill="#26a69a"/><line x1="1370.49" y1="624.20" x2="1370.49" y2="653.68" stroke="#26a69a" stroke-width="1.25"/><rect x="1367.49" y="630.42" width="6" height="16.16" fill="#26a69a"/><line x1="1378.57" y1="605.09" x2="1378.57" y2="630.82" stroke="#26a69a" stroke-width="1.25"/><rect x="1375.57" y="608.46" width="6" height="22.76" fill="#26a69a"/><line x1="1386.64" y1="605.09" x2="1386.64" y2="646.59" stroke="#ef5350" stroke-width="1.25"/><rect x="1383.64" y="605.89" width="6" height="39.02" fill="#ef5350"/><line x1="1394.72" y1="608.91" x2="1394.72" y2="654.78" stroke="#26a69a" stroke-width="1.25"/><rect x="1391.72" y="614.46" width="6" height="31.70" fill="#26a69a"/><line x1="1402.80" y1="595.43" x2="1402.80" y2="616.01" stroke="#26a69a" stroke-width="1.25"/><rect x="1399.80" y="604.76" width="6" height="3.46" fill="#26a69a"/><line x1="1410.88" y1="596.35" x2="1410.88" y2="628.57" stroke="#ef5350" stroke-width="1.25"/><rect x="1407.88" y="604.03" width="6" height="10.14" fill="#ef5350"/><line x1="1418.95" y1="597.66" x2="1418.95" y2="621.85" stroke="#26a69a" stroke-width="1.25"/><rect x="1415.95" y="610.20" width="6" height="7.84" fill="#26a69a"/><line x1="1427.03" y1="589.80" x2="1427.03" y2="628.30" stroke="#26a69a" stroke-width="1.25"/><rect x="1424.03" y="591.92" width="6" height="17.93" fill="#26a69a"/><line x1="1435.11" y1="572.60" x2="1435.11" y2="593.62" stroke="#26a69a" stroke-width="1.25"/><rect x="1432.11" y="574.46" width="6" height="16.34" fill="#26a69a"/><line x1="1443.18" y1="553.33" x2="1443.18" y2="587.89" stroke="#26a69a" stroke-width="1.25"/><rect x="1440.18" y="556.48" width="6" height="19.25" fill="#26a69a"/><line x1="1451.26" y1="528.32" x2="1451.26" y2="558.13" stroke="#26a69a" stroke-width="1.25"/><rect x="1448.26" y="542.34" width="6" height="11.28" fill="#26a69a"/><line x1="1459.34" y1="501.40" x2="1459.34" y2="589.58" stroke="#ef5350" stroke-width="1.25"/><rect x="1456.34" y="539.44" width="6" height="32.63" fill="#ef5350"/><line x1="1467.41" y1="542.52" x2="1467.41" y2="663.51" stroke="#ef5350" stroke-width="1.25"/><rect x="1464.41" y="565.00" width="6" height="42.51" fill="#ef5350"/><line x1="1475.49" y1="537.93" x2="1475.49" y2="635.12" stroke="#26a69a" stroke-width="1.25"/><rect x="1472.49" y="541.90" width="6" height="79.42" fill="#26a69a"/><line x1="1483.57" y1="509.81" x2="1483.57" y2="560.32" stroke="#26a69a" stroke-width="1.25"/><rect x="1480.57" y="511.60" width="6" height="42.57" fill="#26a69a"/><line x1="1491.64" y1="470.45" x2="1491.64" y2="517.73" stroke="#26a69a" stroke-width="1.25"/><rect x="1488.64" y="478.73" width="6" height="35.03" fill="#26a69a"/><line x1="1499.72" y1="429.28" x2="1499.72" y2="480.06" stroke="#26a69a" stroke-width="1.25"/><rect x="1496.72" y="437.83" width="6" height="42.08" fill="#26a69a"/><line x1="1507.80" y1="369.16" x2="1507.80" y2="441.02" stroke="#26a69a" stroke-width="1.25"/><rect x="1504.80" y="372.09" width="6" height="61.68" fill="#26a69a"/><line x1="1515.88" y1="353.49" x2="1515.88" y2="449.21" stroke="#ef5350" stroke-width="1.25"/><rect x="1512.88" y="367.45" width="6" height="43.22" fill="#ef5350"/><line x1="1523.95" y1="367.69" x2="1523.95" y2="435.28" stroke="#ef5350" stroke-width="1.25"/><rect x="1520.95" y="402.40" width="6" height="28.21" fill="#ef5350"/><line x1="1532.03" y1="361.96" x2="1532.03" y2="435.28" stroke="#26a69a" stroke-width="1.25"/><rect x="1529.03" y="363.47" width="6" height="62.12" fill="#26a69a"/><line x1="1540.11" y1="328.21" x2="1540.11" y2="365.51" stroke="#26a69a" stroke-width="1.25"/><rect x="1537.11" y="329.62" width="6" height="28.81" fill="#26a69a"/><line x1="1548.18" y1="292.72" x2="1548.18" y2="348.69" stroke="#ef5350" stroke-width="1.25"/><rect x="1545.18" y="325.96" width="6" height="2.44" fill="#ef5350"/><line x1="1556.26" y1="275.80" x2="1556.26" y2="337.06" stroke="#ef5350" stroke-width="1.25"/><rect x="1553.26" y="320.22" width="6" height="9.04" fill="#ef5350"/><line x1="1564.34" y1="306.86" x2="1564.34" y2="365.67" stroke="#ef5350" stroke-width="1.25"/><rect x="1561.34" y="317.33" width="6" height="2.00" fill="#ef5350"/><line x1="1572.42" y1="264.60" x2="1572.42" y2="310.25" stroke="#26a69a" stroke-width="1.25"/><rect x="1569.42" y="276.49" width="6" height="33.89" fill="#26a69a"/><line x1="1580.49" y1="272.03" x2="1580.49" y2="325.43" stroke="#ef5350" stroke-width="1.25"/><rect x="1577.49" y="272.72" width="6" height="14.07" fill="#ef5350"/><line x1="1588.57" y1="237.09" x2="1588.57" y2="298.24" stroke="#26a69a" stroke-width="1.25"/><rect x="1585.57" y="238.60" width="6" height="44.21" fill="#26a69a"/><line x1="1596.65" y1="207.22" x2="1596.65" y2="243.97" stroke="#26a69a" stroke-width="1.25"/><rect x="1593.65" y="216.48" width="6" height="24.28" fill="#26a69a"/><line x1="1604.72" y1="180.19" x2="1604.72" y2="227.69" stroke="#26a69a" stroke-width="1.25"/><rect x="1601.72" y="182.47" width="6" height="30.99" fill="#26a69a"/><line x1="1612.80" y1="175.99" x2="1612.80" y2="233.26" stroke="#ef5350" stroke-width="1.25"/><rect x="1609.80" y="179.08" width="6" height="52.94" fill="#ef5350"/><line x1="1620.88" y1="167.20" x2="1620.88" y2="247.79" stroke="#26a69a" stroke-width="1.25"/><rect x="1617.88" y="167.89" width="6" height="62.23" fill="#26a69a"/><line x1="1628.95" y1="117.95" x2="1628.95" y2="171.78" stroke="#26a69a" stroke-width="1.25"/><rect x="1625.95" y="152.27" width="6" height="15.65" fill="#26a69a"/><line x1="1637.03" y1="125.76" x2="1637.03" y2="186.96" stroke="#ef5350" stroke-width="1.25"/><rect x="1634.03" y="140.32" width="6" height="2.71" fill="#ef5350"/><line x1="1645.11" y1="131.71" x2="1645.11" y2="284.75" stroke="#ef5350" stroke-width="1.25"/><rect x="1642.11" y="138.02" width="6" height="80.90" fill="#ef5350"/><line x1="1653.19" y1="203.45" x2="1653.19" y2="320.35" stroke="#ef5350" stroke-width="1.25"/><rect x="1650.19" y="215.94" width="6" height="40.77" fill="#ef5350"/><line x1="1661.26" y1="200.29" x2="1661.26" y2="322.81" stroke="#26a69a" stroke-width="1.25"/><rect x="1658.26" y="223.09" width="6" height="36.07" fill="#26a69a"/><line x1="1669.34" y1="204.93" x2="1669.34" y2="332.09" stroke="#ef5350" stroke-width="1.25"/><rect x="1666.34" y="220.31" width="6" height="111.91" fill="#ef5350"/><line x1="1677.42" y1="292.50" x2="1677.42" y2="395.43" stroke="#ef5350" stroke-width="1.25"/><rect x="1674.42" y="331.42" width="6" height="26.33" fill="#ef5350"/></g>
<line x1="699.6" y1="664.7" x2="885.5" y2="664.7" stroke="#808080" stroke-width="1.45" opacity="0.8"/>
<text x="696.1" y="667.9" fill="#808080" font-size="10.2" text-anchor="end" stroke="#808080" stroke-width="0.25" opacity="0.92">0</text>
<line x1="699.6" y1="588.1" x2="885.5" y2="588.1" stroke="#cc2828" stroke-width="1.45" opacity="0.8"/>
<text x="696.1" y="591.3" fill="#cc2828" font-size="10.2" text-anchor="end" stroke="#cc2828" stroke-width="0.25" opacity="0.92">0.236</text>
<line x1="699.6" y1="540.7" x2="885.5" y2="540.7" stroke="#95cc28" stroke-width="1.45" opacity="0.8"/>
<text x="696.1" y="543.9" fill="#95cc28" font-size="10.2" text-anchor="end" stroke="#95cc28" stroke-width="0.25" opacity="0.92">0.382</text>
<line x1="699.6" y1="502.4" x2="885.5" y2="502.4" stroke="#28cc28" stroke-width="1.45" opacity="0.8"/>
<text x="696.1" y="505.6" fill="#28cc28" font-size="10.2" text-anchor="end" stroke="#28cc28" stroke-width="0.25" opacity="0.92">0.5</text>
<line x1="699.6" y1="464.0" x2="885.5" y2="464.0" stroke="#28cc95" stroke-width="1.45" opacity="0.8"/>
<text x="696.1" y="467.2" fill="#28cc95" font-size="10.2" text-anchor="end" stroke="#28cc95" stroke-width="0.25" opacity="0.92">0.618</text>
<line x1="699.6" y1="409.5" x2="885.5" y2="409.5" stroke="#2895cc" stroke-width="1.45" opacity="0.8"/>
<text x="696.1" y="412.7" fill="#2895cc" font-size="10.2" text-anchor="end" stroke="#2895cc" stroke-width="0.25" opacity="0.92">0.786</text>
<line x1="699.6" y1="340.0" x2="885.5" y2="340.0" stroke="#808080" stroke-width="1.45" opacity="0.8"/>
<text x="696.1" y="343.2" fill="#808080" font-size="10.2" text-anchor="end" stroke="#808080" stroke-width="0.25" opacity="0.92">1</text>
<line x1="699.6" y1="251.7" x2="885.5" y2="251.7" stroke="#95cc28" stroke-width="1.45" opacity="0.8"/>
<text x="696.1" y="254.9" fill="#95cc28" font-size="10.2" text-anchor="end" stroke="#95cc28" stroke-width="0.25" opacity="0.92">1.272</text>
<line x1="699.6" y1="139.3" x2="885.5" y2="139.3" stroke="#2895cc" stroke-width="1.45" opacity="0.8"/>
<text x="696.1" y="142.5" fill="#2895cc" font-size="10.2" text-anchor="end" stroke="#2895cc" stroke-width="0.25" opacity="0.92">1.618</text>
<polyline points="659,828 700,502.3 885.5,664.7" fill="none" stroke="#9598a1" stroke-width="1.4" stroke-dasharray="4.7 4.6" opacity="0.6"/>
<line x1="1079.8" y1="711.9" x2="1119.9" y2="711.9" stroke="#808080" stroke-width="1.45" opacity="0.8"/>
<text x="1076.3" y="715.1" fill="#808080" font-size="10.2" text-anchor="end" stroke="#808080" stroke-width="0.25" opacity="0.92">0</text>
<line x1="1079.8" y1="661.1" x2="1119.9" y2="661.1" stroke="#cc2828" stroke-width="1.45" opacity="0.8"/>
<text x="1076.3" y="664.3" fill="#cc2828" font-size="10.2" text-anchor="end" stroke="#cc2828" stroke-width="0.25" opacity="0.92">0.236</text>
<line x1="1079.8" y1="629.7" x2="1119.9" y2="629.7" stroke="#95cc28" stroke-width="1.45" opacity="0.8"/>
<text x="1076.3" y="632.9" fill="#95cc28" font-size="10.2" text-anchor="end" stroke="#95cc28" stroke-width="0.25" opacity="0.92">0.382</text>
<line x1="1079.8" y1="604.2" x2="1119.9" y2="604.2" stroke="#28cc28" stroke-width="1.45" opacity="0.8"/>
<text x="1076.3" y="607.5" fill="#28cc28" font-size="10.2" text-anchor="end" stroke="#28cc28" stroke-width="0.25" opacity="0.92">0.5</text>
<line x1="1079.8" y1="578.8" x2="1119.9" y2="578.8" stroke="#28cc95" stroke-width="1.45" opacity="0.8"/>
<text x="1076.3" y="582.0" fill="#28cc95" font-size="10.2" text-anchor="end" stroke="#28cc95" stroke-width="0.25" opacity="0.92">0.618</text>
<line x1="1079.8" y1="542.7" x2="1119.9" y2="542.7" stroke="#2895cc" stroke-width="1.45" opacity="0.8"/>
<text x="1076.3" y="545.9" fill="#2895cc" font-size="10.2" text-anchor="end" stroke="#2895cc" stroke-width="0.25" opacity="0.92">0.786</text>
<line x1="1079.8" y1="496.6" x2="1119.9" y2="496.6" stroke="#808080" stroke-width="1.45" opacity="0.8"/>
<text x="1076.3" y="499.8" fill="#808080" font-size="10.2" text-anchor="end" stroke="#808080" stroke-width="0.25" opacity="0.92">1</text>
<line x1="1079.8" y1="438.0" x2="1119.9" y2="438.0" stroke="#95cc28" stroke-width="1.45" opacity="0.8"/>
<text x="1076.3" y="441.2" fill="#95cc28" font-size="10.2" text-anchor="end" stroke="#95cc28" stroke-width="0.25" opacity="0.92">1.272</text>
<line x1="1079.8" y1="363.5" x2="1119.9" y2="363.5" stroke="#2895cc" stroke-width="1.45" opacity="0.8"/>
<text x="1076.3" y="366.7" fill="#2895cc" font-size="10.2" text-anchor="end" stroke="#2895cc" stroke-width="0.25" opacity="0.92">1.618</text>
<line x1="1079.8" y1="222.7" x2="1119.9" y2="222.7" stroke="#95cc28" stroke-width="1.45" opacity="0.8"/>
<text x="1076.3" y="225.9" fill="#95cc28" font-size="10.2" text-anchor="end" stroke="#95cc28" stroke-width="0.25" opacity="0.92">2.272</text>
<line x1="1079.8" y1="148.2" x2="1119.9" y2="148.2" stroke="#cc2828" stroke-width="1.45" opacity="0.8"/>
<text x="1076.3" y="151.4" fill="#cc2828" font-size="10.2" text-anchor="end" stroke="#cc2828" stroke-width="0.25" opacity="0.92">2.618</text>
<polyline points="1047,826.5 1079.5,611 1119.7,711.9" fill="none" stroke="#9598a1" stroke-width="1.4" stroke-dasharray="4.7 4.6" opacity="0.6"/>
<line x1="1782" y1="117.4" x2="1831.6" y2="117.4" stroke="#808080" stroke-width="1.45" opacity="0.8"/>
<text x="1778.5" y="120.6" fill="#808080" font-size="10.2" text-anchor="end" stroke="#808080" stroke-width="0.25" opacity="0.92">0</text>
<line x1="1782" y1="196.5" x2="1831.6" y2="196.5" stroke="#cc2828" stroke-width="1.45" opacity="0.8"/>
<text x="1778.5" y="199.7" fill="#cc2828" font-size="10.2" text-anchor="end" stroke="#cc2828" stroke-width="0.25" opacity="0.92">0.236</text>
<line x1="1782" y1="245.4" x2="1831.6" y2="245.4" stroke="#95cc28" stroke-width="1.45" opacity="0.8"/>
<text x="1778.5" y="248.6" fill="#95cc28" font-size="10.2" text-anchor="end" stroke="#95cc28" stroke-width="0.25" opacity="0.92">0.382</text>
<line x1="1782" y1="284.9" x2="1831.6" y2="284.9" stroke="#28cc28" stroke-width="1.45" opacity="0.8"/>
<text x="1778.5" y="288.1" fill="#28cc28" font-size="10.2" text-anchor="end" stroke="#28cc28" stroke-width="0.25" opacity="0.92">0.5</text>
<line x1="1782" y1="324.4" x2="1831.6" y2="324.4" stroke="#28cc95" stroke-width="1.45" opacity="0.8"/>
<text x="1778.5" y="327.6" fill="#28cc95" font-size="10.2" text-anchor="end" stroke="#28cc95" stroke-width="0.25" opacity="0.92">0.618</text>
<line x1="1782" y1="380.7" x2="1831.6" y2="380.7" stroke="#2895cc" stroke-width="1.45" opacity="0.8"/>
<text x="1778.5" y="383.9" fill="#2895cc" font-size="10.2" text-anchor="end" stroke="#2895cc" stroke-width="0.25" opacity="0.92">0.786</text>
<line x1="1782" y1="452.4" x2="1831.6" y2="452.4" stroke="#808080" stroke-width="1.45" opacity="0.8"/>
<text x="1778.5" y="455.6" fill="#808080" font-size="10.2" text-anchor="end" stroke="#808080" stroke-width="0.25" opacity="0.92">1</text>
<polyline points="1831.6,117.4 1782,452.4" fill="none" stroke="#9598a1" stroke-width="1.4" stroke-dasharray="4.7 4.6" opacity="0.6"/>
<line x1="1903.2" y1="117.3" x2="1952" y2="117.3" stroke="#808080" stroke-width="1.45" opacity="0.8"/>
<text x="1899.7" y="120.5" fill="#808080" font-size="10.2" text-anchor="end" stroke="#808080" stroke-width="0.25" opacity="0.92">0</text>
<line x1="1903.2" y1="246.5" x2="1952" y2="246.5" stroke="#cc2828" stroke-width="1.45" opacity="0.8"/>
<text x="1899.7" y="249.7" fill="#cc2828" font-size="10.2" text-anchor="end" stroke="#cc2828" stroke-width="0.25" opacity="0.92">0.236</text>
<line x1="1903.2" y1="326.4" x2="1952" y2="326.4" stroke="#95cc28" stroke-width="1.45" opacity="0.8"/>
<text x="1899.7" y="329.6" fill="#95cc28" font-size="10.2" text-anchor="end" stroke="#95cc28" stroke-width="0.25" opacity="0.92">0.382</text>
<line x1="1903.2" y1="391.1" x2="1952" y2="391.1" stroke="#28cc28" stroke-width="1.45" opacity="0.8"/>
<text x="1899.7" y="394.2" fill="#28cc28" font-size="10.2" text-anchor="end" stroke="#28cc28" stroke-width="0.25" opacity="0.92">0.5</text>
<line x1="1903.2" y1="455.7" x2="1952" y2="455.7" stroke="#28cc95" stroke-width="1.45" opacity="0.8"/>
<text x="1899.7" y="458.9" fill="#28cc95" font-size="10.2" text-anchor="end" stroke="#28cc95" stroke-width="0.25" opacity="0.92">0.618</text>
<line x1="1903.2" y1="547.6" x2="1952" y2="547.6" stroke="#2895cc" stroke-width="1.45" opacity="0.8"/>
<text x="1899.7" y="550.8" fill="#2895cc" font-size="10.2" text-anchor="end" stroke="#2895cc" stroke-width="0.25" opacity="0.92">0.786</text>
<line x1="1903.2" y1="664.8" x2="1952" y2="664.8" stroke="#808080" stroke-width="1.45" opacity="0.8"/>
<text x="1899.7" y="668.0" fill="#808080" font-size="10.2" text-anchor="end" stroke="#808080" stroke-width="0.25" opacity="0.92">1</text>
<polyline points="1951.3,117.1 1903.2,664.1" fill="none" stroke="#9598a1" stroke-width="1.4" stroke-dasharray="4.7 4.6" opacity="0.6"/></svg>
<div id="paxis"></div>
<div id="taxis"></div>
<div class="pl" style="top:1000.4px">500.00</div><div class="pl" style="top:973.1px">1000.00</div><div class="pl" style="top:945.8px">1500.00</div><div class="pl" style="top:918.5px">2000.00</div><div class="pl" style="top:891.2px">2500.00</div><div class="pl" style="top:863.9px">3000.00</div><div class="pl" style="top:836.6px">3500.00</div><div class="pl" style="top:809.3px">4000.00</div><div class="pl" style="top:782.0px">4500.00</div><div class="pl" style="top:754.7px">5000.00</div><div class="pl" style="top:727.4px">5500.00</div><div class="pl" style="top:700.1px">6000.00</div><div class="pl" style="top:672.8px">6500.00</div><div class="pl" style="top:645.5px">7000.00</div><div class="pl" style="top:618.2px">7500.00</div><div class="pl" style="top:590.9px">8000.00</div><div class="pl" style="top:563.6px">8500.00</div><div class="pl" style="top:536.3px">9000.00</div><div class="pl" style="top:509.0px">9500.00</div><div class="pl" style="top:481.7px">10000.00</div><div class="pl" style="top:454.4px">10500.00</div><div class="pl" style="top:427.1px">11000.00</div><div class="pl" style="top:399.8px">11500.00</div><div class="pl" style="top:372.5px">12000.00</div><div class="pl" style="top:345.2px">12500.00</div><div class="pl" style="top:317.9px">13000.00</div><div class="pl" style="top:290.6px">13500.00</div><div class="pl" style="top:263.3px">14000.00</div><div class="pl" style="top:236.0px">14500.00</div><div class="pl" style="top:208.7px">15000.00</div><div class="pl" style="top:181.4px">15500.00</div><div class="pl" style="top:154.1px">16000.00</div><div class="pl" style="top:126.8px">16500.00</div><div class="pl" style="top:99.5px">17000.00</div><div class="pl" style="top:72.2px">17500.00</div><div class="pl" style="top:44.9px">18000.00</div><div class="pl" style="top:17.6px">18500.00</div>
<div class="tl" style="left:-22.6px">2005</div><div class="tl" style="left:74.3px">2006</div><div class="tl" style="left:171.2px">2007</div><div class="tl" style="left:268.2px">2008</div><div class="tl" style="left:365.1px">2009</div><div class="tl" style="left:462.0px">2010</div><div class="tl" style="left:558.9px">2011</div><div class="tl" style="left:655.9px">2012</div><div class="tl" style="left:752.8px">2013</div><div class="tl" style="left:849.7px">2014</div><div class="tl" style="left:946.6px">2015</div><div class="tl" style="left:1043.6px">2016</div><div class="tl" style="left:1140.5px">2017</div><div class="tl" style="left:1237.4px">2018</div><div class="tl" style="left:1334.3px">2019</div><div class="tl" style="left:1431.3px">2020</div><div class="tl" style="left:1528.2px">2021</div><div class="tl" style="left:1625.1px">2022</div><div class="tl" style="left:1722.0px">2023</div><div class="tl" style="left:1819.0px">2024</div><div class="tl" style="left:1915.9px">2025</div>
<style>
.lg{position:absolute;white-space:nowrap;color:#d1d4dc}
#title{left:1px;top:4px;font-size:12.4px;line-height:14px;letter-spacing:0px;-webkit-text-stroke:0.3px #d1d4dc}
#pill{left:286.6px;top:2.9px;width:33px;height:14px;border-radius:7px;background:linear-gradient(90deg,#2a2e39 0,#2a2e39 16px,#3d3225 16px,#3d3225 100%);font-size:10.5px;line-height:14px;overflow:hidden}
#ohlc{left:333px;top:5px;font-size:10.4px;line-height:13px;word-spacing:2.4px;-webkit-text-stroke:0.2px currentColor}
#ohlc b{font-weight:normal;color:#26a69a}
.box{position:absolute;box-sizing:border-box;height:20.5px;top:23.3px;border-radius:3px;font-size:10.6px;line-height:20.6px;text-align:center;-webkit-text-stroke:0.2px currentColor}
#ema{left:1px;top:51.5px;font-size:10.4px;line-height:13px;-webkit-text-stroke:0.2px currentColor}
#usd{position:absolute;left:2010.5px;top:2px;width:30px;height:15.5px;box-sizing:border-box;border:1px solid #363a45;border-radius:2px;font-size:8.2px;line-height:16.3px;color:#d1d4dc;text-align:left;padding-left:3px}
#shot{position:absolute;left:1977px;top:2px;width:17px;height:17px;border-radius:2px;background:#1e43c6}
#ptag{position:absolute;left:1998px;top:351px;width:50px;height:25px;background:#ef5350;color:#fff;font-size:9.0px;-webkit-text-stroke:0.2px #fff;line-height:10.8px;padding:1.8px 0 0 9.7px;box-sizing:border-box}
#ctag{position:absolute;left:1999px;top:124px;width:49px;height:16px;background:#363a45;color:#fff;font-size:9.0px;line-height:17.6px;padding-left:8.6px;overflow:hidden;box-sizing:border-box;font-weight:bold}
#cplus{position:absolute;left:1981px;top:124px;width:17px;height:16px;background:#2a2e39;}
#ttag{position:absolute;left:438px;top:1020.5px;width:55px;height:19px;background:#363a45;color:#fff;font-size:9px;line-height:21.5px;text-align:center;font-weight:bold;letter-spacing:-0.3px}
.wm{position:absolute;top:613.4px;font-size:34.5px;line-height:40px;color:#fff;white-space:nowrap;transform-origin:0 0;-webkit-text-stroke:0.7px #fff}
</style>
<div class="lg" id="title">Nasdaq 100 Index · 1M · NASDAQ · TradingView</div>
<div class="lg" id="pill"><span style="position:absolute;left:4.5px;top:5.7px;width:8px;height:2.6px;border-radius:1px;background:#b2b5be"></span><span style="position:absolute;left:19.5px;top:0.3px;color:#f28c0a;font-weight:bold">D</span></div>
<div class="lg" id="ohlc">O<b>1667.06</b> H<b>1814.25</b> L<b>1652.44</b> C<b>1767.43</b> <b>+100.30 (+6.02%)</b></div>
<div class="box" style="left:0;width:58px;border:1px solid #c8303a;color:#f23645">12387.40</div>
<div class="lg" style="left:63.5px;top:27px;font-size:9.6px;line-height:13px">0.00</div>
<div class="box" style="left:89px;width:57.5px;border:1px solid #2451c8;color:#2962ff">12387.40</div>
<div class="lg" id="ema">EMA 50 close <span style="color:#f23645;margin-left:4px">1629.94</span></div>
<div id="shot"><svg width="17" height="17" viewBox="0 0 17 17"><path d="M4.2 7.3V5.2a1 1 0 0 1 1-1H7.3M9.7 4.2h2.1a1 1 0 0 1 1 1V7.3M12.8 9.7v2.1a1 1 0 0 1-1 1H9.7M7.3 12.8H5.2a1 1 0 0 1-1-1V9.7" fill="none" stroke="#dfe5ff" stroke-width="1"/></svg></div>
<div id="usd">USD<svg width="7" height="5" viewBox="0 0 7 5" style="position:absolute;left:20.3px;top:5.6px"><path d="M1 1l2.5 2.2L6 1" fill="none" stroke="#d1d4dc" stroke-width="1.1"/></svg></div>
<div id="cplus"><svg width="17" height="16" viewBox="0 0 17 16"><circle cx="8.5" cy="8.3" r="5.2" fill="none" stroke="#f0f2f5" stroke-width="1.1"/><path d="M5.8 8.3h5.4M8.5 5.6v5.4" stroke="#f0f2f5" stroke-width="1.1"/></svg></div>
<div id="ctag">16518.49</div>
<div id="ptag">12387.40<br>17d 14h</div>
<div id="ttag">02 Nov '09</div>
<svg width="20" height="20" viewBox="0 0 20 20" style="position:absolute;left:2015.6px;top:1022.3px"><circle cx="10" cy="10" r="4" fill="none" stroke="#6a6f7d" stroke-width="1.5"/><path d="M8.57 5.84L10.00 3.60L11.43 5.84ZM11.94 6.05L14.53 5.47L13.95 8.06ZM14.16 8.57L16.40 10.00L14.16 11.43ZM13.95 11.94L14.53 14.53L11.94 13.95ZM11.43 14.16L10.00 16.40L8.57 14.16ZM8.06 13.95L5.47 14.53L6.05 11.94ZM5.84 11.43L3.60 10.00L5.84 8.57ZM6.05 8.06L5.47 5.47L8.06 6.05Z" fill="#6a6f7d"/></svg>
<svg width="100" height="85" viewBox="0 0 100 85" style="position:absolute;left:1205px;top:595px" fill="none" stroke="#fff" stroke-width="1.7" stroke-linejoin="round">
<rect x="11.1" y="10.3" width="69.2" height="54.9" rx="3.2"/>
<path d="M40.6 65.5l-7 8.3h24.8l-6-8.3" stroke-linejoin="miter"/>
<g stroke-width="1.3">
<path d="M24.1 20v4.5M24.1 44.9v9M21.2 25.4a.9.9 0 0 1 .9-.9h4a.9.9 0 0 1 .9.9v18.6a.9.9 0 0 1-.9.9h-4a.9.9 0 0 1-.9-.9z"/>
<path d="M34.9 25.3v13M34.9 49.8v8.5M32 39.2a.9.9 0 0 1 .9-.9h4a.9.9 0 0 1 .9.9v9.7a.9.9 0 0 1-.9.9h-4a.9.9 0 0 1-.9-.9z"/>
<path d="M45.7 17.5v1.8M45.7 50.6v3.6M42.8 20.2a.9.9 0 0 1 .9-.9h4a.9.9 0 0 1 .9.9v29.5a.9.9 0 0 1-.9.9h-4a.9.9 0 0 1-.9-.9z"/>
<path d="M56.5 20v6.1M56.5 42.8v9.4M53.6 27a.9.9 0 0 1 .9-.9h4a.9.9 0 0 1 .9.9v14.9a.9.9 0 0 1-.9.9h-4a.9.9 0 0 1-.9-.9z"/>
<path d="M67.3 16.7v9.4M67.3 53.4v4.5M64.4 27a.9.9 0 0 1 .9-.9h4a.9.9 0 0 1 .9.9v25.5a.9.9 0 0 1-.9.9h-4a.9.9 0 0 1-.9-.9z"/>
</g>
</svg>
<div class="wm" style="left:1293px;transform:scaleX(0.639)">TRADING</div><div class="wm" style="left:1399.4px;transform:scaleX(0.657)">CHART</div><div class="wm" style="left:1484px;transform:scaleX(0.662)">ANALYSIS</div>

</body></html>
